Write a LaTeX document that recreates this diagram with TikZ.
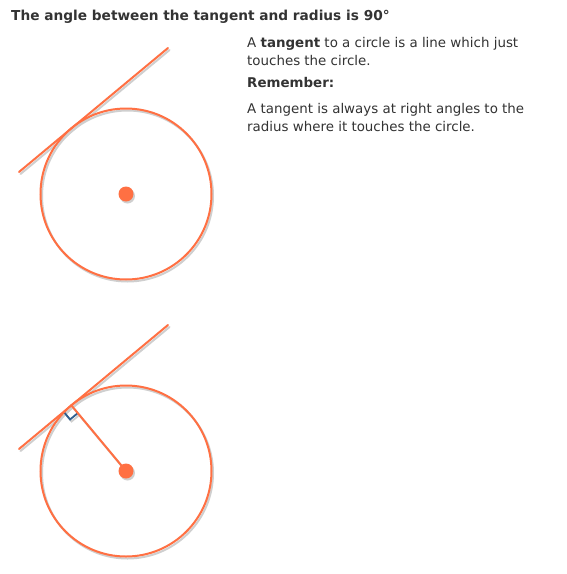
\documentclass[tikz,border=0pt]{standalone}
\usepackage{fontspec}
\setmainfont{DejaVu Sans}
\usetikzlibrary{calc}
\definecolor{tangentorange}{HTML}{FF7043}
\definecolor{textgrey}{HTML}{333333}
\definecolor{markblue}{HTML}{2F5F8F}
\definecolor{shadowgrey}{HTML}{CFCFCF}

\begin{document}
\begin{tikzpicture}[x=1pt,y=-1pt,
    fig/.style={line width=2pt, line cap=round},
    dot/.style={circle, inner sep=0pt, minimum size=15pt},
    txt/.style={anchor=base west, inner sep=0pt, text=textgrey, font=\fontsize{13.4}{18}\selectfont}]
    \useasboundingbox (0,0) rectangle (567,574);
    \fill[white] (0,0) rectangle (567,574);

    % Heading
    \node[txt, font=\fontsize{13.7}{18}\selectfont\bfseries] (title) at (11,20) {The angle between the tangent and radius is 90°};

    % Explanation
    \node[txt] (line1) at (247,47) {A \textbf{tangent} to a circle is a line which just};
    \node[txt] (line2) at (247,65) {touches the circle.};
    \node[txt, font=\fontsize{13.4}{18}\selectfont\bfseries] (remember) at (247,87) {Remember:};
    \node[txt] (line3) at (247,113) {A tangent is always at right angles to the};
    \node[txt] (line4) at (247,131) {radius where it touches the circle.};

    % Circles and tangents, shadow first
    \foreach \dx/\dy/\col/\mcol in {1.5/2/shadowgrey/shadowgrey, 0/0/tangentorange/markblue}{
        \begin{scope}[shift={(\dx,\dy)}]
            % top circle
            \coordinate (a1) at (19,172);
            \coordinate (b1) at (168,48);
            \coordinate (c1) at (126,194);
            \draw[fig, \col] (a1) -- (b1);
            \draw[fig, \col] (c1) circle (85.5pt);
            \node[dot, fill=\col] (dot1) at (c1) {};

            % bottom circle with radius
            \coordinate (a2) at (19,449);
            \coordinate (b2) at (168,325);
            \coordinate (c2) at (126,471);
            \coordinate (t2) at ($(a2)!(c2)!(b2)$);
            \coordinate (m1) at ($(t2)!10pt!(a2)$);
            \coordinate (m2) at ($(t2)!10pt!(c2)$);
            \coordinate (m3) at ($(m1)+(m2)-(t2)$);
            \draw[line width=1.8pt, \mcol] (m1) -- (m3) -- (m2);
            \draw[fig, \col] (a2) -- (b2);
            \draw[fig, \col] (c2) circle (85.5pt);
            \draw[fig, \col] (t2) -- (c2);
            \node[dot, fill=\col] (dot2) at (c2) {};
        \end{scope}
    }
\end{tikzpicture}
\end{document}
